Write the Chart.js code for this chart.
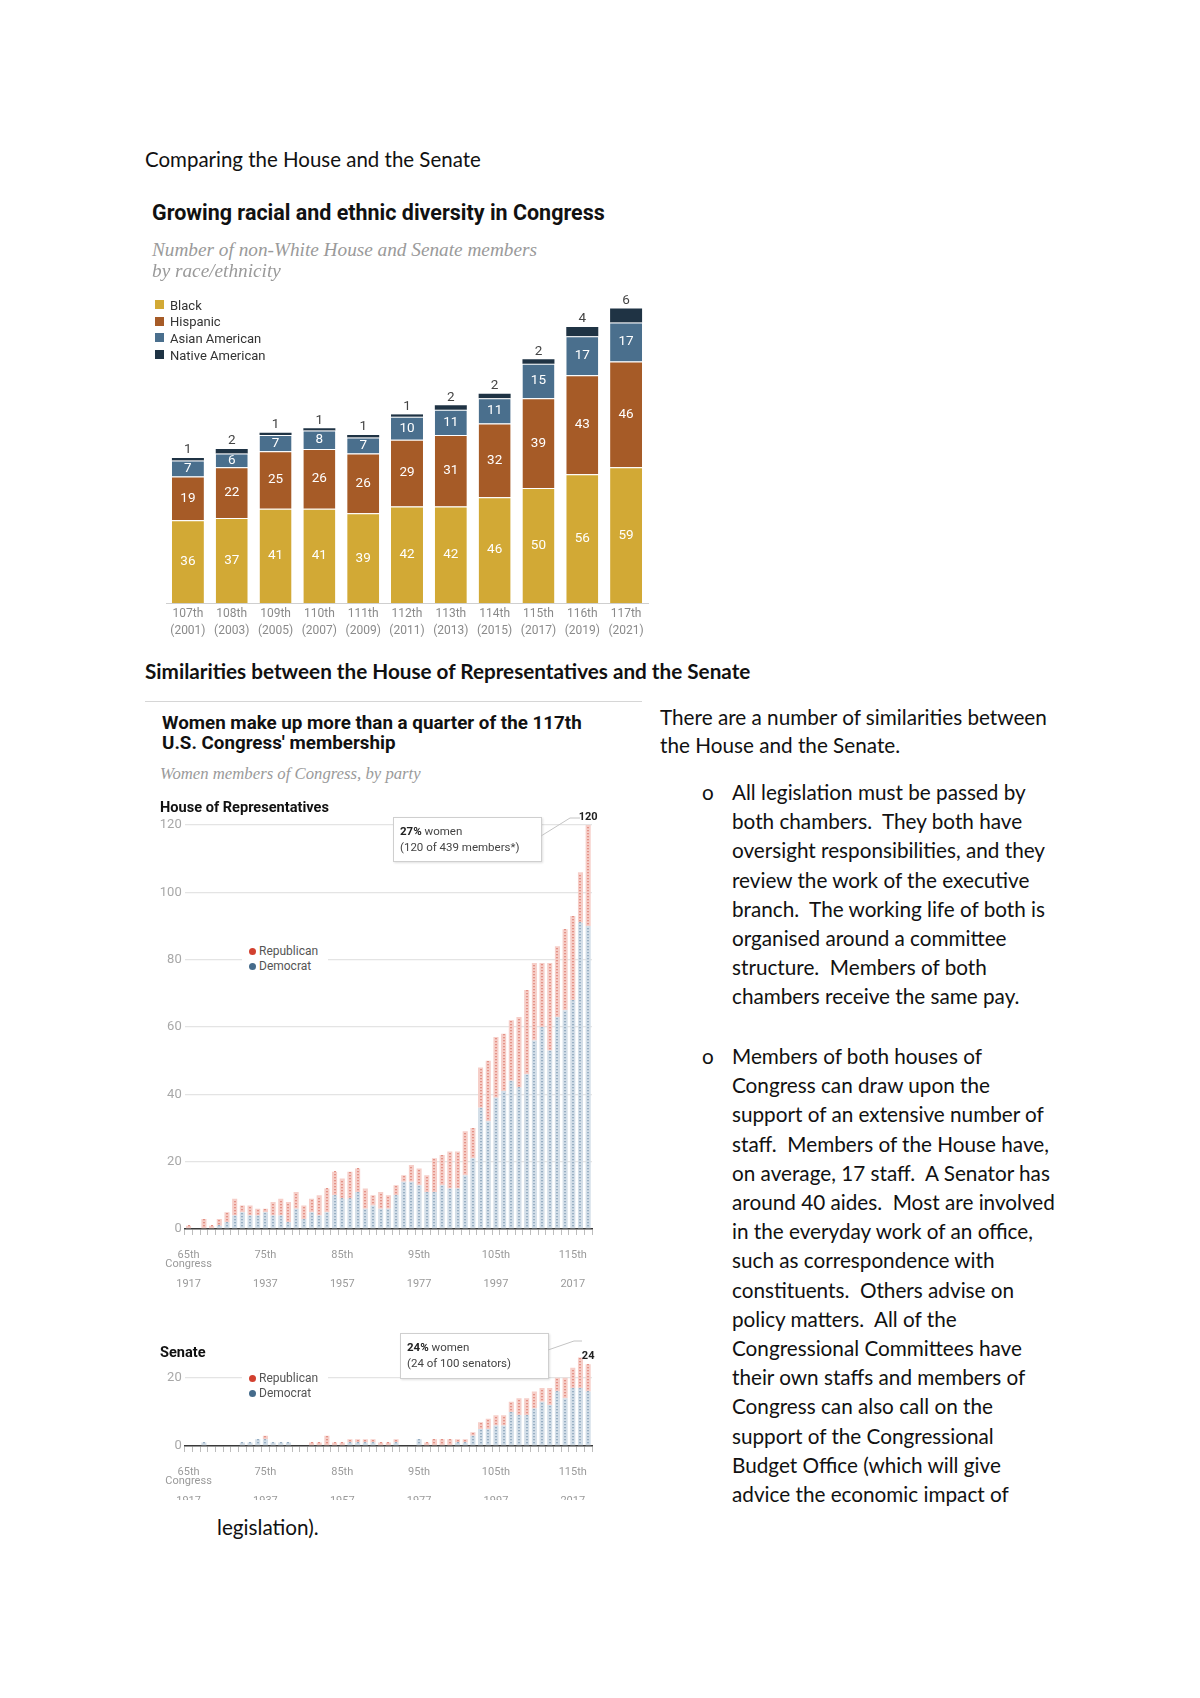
<!DOCTYPE html>
<html>
<head>
<meta charset="utf-8">
<script src="https://cdn.jsdelivr.net/npm/chart.js@4.4.0/dist/chart.umd.min.js"></script>
<style>
body { margin:0; background:#fff; }
#page { position:relative; width:1200px; height:1698px; overflow:hidden; background:#fff; }
.t { position:absolute; white-space:pre; line-height:1; transform:translateY(-50%); }
canvas { position:absolute; }
.sw { position:absolute; width:9px; height:9px; }
.box { position:absolute; background:#fff; border:1px solid #cfcfcf; box-shadow:1px 1px 2px rgba(0,0,0,0.12); }
.dot { display:inline-block; width:7px; height:7px; border-radius:50%; margin-right:3px; vertical-align:0px; }
</style>
</head>
<body>
<div id="page">
  <canvas id="race" width="520" height="375" style="left:150px;top:270px;"></canvas>
  <canvas id="house" width="460" height="490" style="left:150px;top:805px;"></canvas>
  <canvas id="senate" width="460" height="165" style="left:150px;top:1335px;"></canvas>
</div>
<script>
// top chart: non-White members by race/ethnicity
const congress = ['107th','108th','109th','110th','111th','112th','113th','114th','115th','116th','117th'];
const years = ['(2001)','(2003)','(2005)','(2007)','(2009)','(2011)','(2013)','(2015)','(2017)','(2019)','(2021)'];
const black = [36,37,41,41,39,42,42,46,50,56,59];
const hispanic = [19,22,25,26,26,29,31,32,39,43,46];
const asian = [7,6,7,8,7,10,11,11,15,17,17];
const native = [1,2,1,1,1,1,2,2,2,4,6];

// women members by party, 65th..117th Congress
const houseCongress = [65,66,67,68,69,70,71,72,73,74,75,76,77,78,79,80,81,82,83,84,85,86,87,88,89,90,91,92,93,94,95,96,97,98,99,100,101,102,103,104,105,106,107,108,109,110,111,112,113,114,115,116,117];
const houseDem = [0,0,0,0,1,2,4,5,4,4,5,4,4,2,6,3,5,4,5,10,9,9,11,6,7,6,6,10,14,14,13,11,11,13,12,12,16,21,36,32,39,41,44,42,46,56,60,53,63,65,68,91,90];
const houseRep = [1,0,3,1,2,3,5,2,3,2,1,4,5,6,5,4,4,6,7,7,6,8,7,6,3,5,4,3,2,5,5,5,10,9,11,11,13,9,12,18,18,17,18,21,25,23,19,26,21,24,25,15,30];
const senateDem = [0,0,1,0,0,0,0,1,1,2,2,1,1,1,0,0,0,0,0,0,0,1,1,1,1,0,0,1,0,0,2,0,0,0,0,1,1,3,5,5,6,6,10,9,9,11,13,12,16,14,17,17,16];
const senateRep = [0,0,0,0,0,0,0,0,0,0,1,0,0,0,0,0,1,1,3,1,1,1,1,1,1,1,1,1,0,0,0,1,2,2,2,1,1,1,2,3,3,3,3,5,5,5,4,5,4,6,6,9,8];
const tickCongress = [65,75,85,95,105,115];
const tickOrdinal = ['65th','75th','85th','95th','105th','115th'];
const tickYears = ['1917','1937','1957','1977','1997','2017'];

const page = document.getElementById('page');

function put(x, y, text, css, fitW) {
  const d = document.createElement('div');
  d.className = 't';
  d.textContent = text;
  d.style.cssText += css;
  d.style.left = x + 'px';
  d.style.top = y + 'px';
  page.appendChild(d);
  if (fitW) {
    const w = d.getBoundingClientRect().width;
    const fs = parseFloat(getComputedStyle(d).fontSize);
    d.style.fontSize = (fs * fitW / w) + 'px';
  }
  return d;
}

// document text
const body = 'font-family:Lato,sans-serif;color:#111;font-size:18px;';
put(145, 159, 'Comparing the House and the Senate', body, 336);
put(145, 671, 'Similarities between the House of Representatives and the Senate', body + 'font-weight:bold;', 606);
const ref = put(660, 717, 'There are a number of similarities between', body, 387);
const bodySize = ref.style.fontSize;
const bs = 'font-family:Lato,sans-serif;color:#111;font-size:' + bodySize + ';';
put(660, 745, 'the House and the Senate.', bs);
const bullet1 = ['All legislation must be passed by','both chambers.  They both have','oversight responsibilities, and they','review the work of the executive','branch.  The working life of both is','organised around a committee','structure.  Members of both','chambers receive the same pay.'];
const bullet2 = ['Members of both houses of','Congress can draw upon the','support of an extensive number of','staff.  Members of the House have,','on average, 17 staff.  A Senator has','around 40 aides.  Most are involved','in the everyday work of an office,','such as correspondence with','constituents.  Others advise on','policy matters.  All of the','Congressional Committees have','their own staffs and members of','Congress can also call on the','support of the Congressional','Budget Office (which will give','advice the economic impact of'];
put(702, 792, 'o', bs);
bullet1.forEach((s, i) => put(732, 792 + i * 29.2, s, bs));
put(702, 1056, 'o', bs);
bullet2.forEach((s, i) => put(732, 1056 + i * 29.2, s, bs));
put(217, 1527, 'legislation).', bs);

// top chart header + legend
put(152, 213, 'Growing racial and ethnic diversity in Congress', 'font-family:Roboto,sans-serif;font-weight:bold;color:#111;font-size:20px;', 453);
const sub = put(152, 250, 'Number of non-White House and Senate members', 'font-family:"Liberation Serif",serif;font-style:italic;color:#9a9a9a;font-size:16px;', 385);
put(152, 271, 'by race/ethnicity', 'font-family:"Liberation Serif",serif;font-style:italic;color:#9a9a9a;font-size:' + sub.style.fontSize + ';');
const raceColors = ['#d2a935','#a65b27','#4a6f8d','#1f3344'];
['Black','Hispanic','Asian American','Native American'].forEach((s, i) => {
  const sq = document.createElement('div');
  sq.className = 'sw';
  sq.style.left = '155px';
  sq.style.top = (300 + i * 16.7) + 'px';
  sq.style.background = raceColors[i];
  page.appendChild(sq);
  put(170, 304.5 + i * 16.7, s, 'font-family:Roboto,sans-serif;color:#333;font-size:13px;');
});

// women chart header
const line = document.createElement('div');
line.style.cssText = 'position:absolute;left:145px;top:701px;width:497px;height:1px;background:#d6d6d6;';
page.appendChild(line);
const wt = put(162, 723, 'Women make up more than a quarter of the 117th', 'font-family:Roboto,sans-serif;font-weight:bold;color:#111;font-size:16px;', 420);
put(162, 743, "U.S. Congress' membership", 'font-family:Roboto,sans-serif;font-weight:bold;color:#111;font-size:' + wt.style.fontSize + ';');
put(160, 774, 'Women members of Congress, by party', 'font-family:"Liberation Serif",serif;font-style:italic;color:#9a9a9a;font-size:14px;', 261);
const hh = put(160, 807, 'House of Representatives', 'font-family:Roboto,sans-serif;font-weight:bold;color:#111;font-size:13px;', 169);
put(160, 1352, 'Senate', 'font-family:Roboto,sans-serif;font-weight:bold;color:#111;font-size:' + hh.style.fontSize + ';');

Chart.defaults.font.family = 'Roboto, sans-serif';

const segLabels = {
  id: 'segLabels',
  afterDatasetsDraw(chart) {
    const ctx = chart.ctx;
    ctx.save();
    ctx.font = '13.5px Roboto, sans-serif';
    ctx.textAlign = 'center';
    ctx.textBaseline = 'middle';
    chart.data.datasets.forEach((ds, di) => {
      chart.getDatasetMeta(di).data.forEach((bar, i) => {
        if (di < 3) {
          ctx.fillStyle = '#fff';
          ctx.fillText(ds.data[i], bar.x, (bar.y + bar.base) / 2);
        } else {
          ctx.fillStyle = '#444';
          ctx.fillText(ds.data[i], bar.x, bar.y - 8);
        }
      });
    });
    ctx.restore();
  }
};

new Chart(document.getElementById('race'), {
  type: 'bar',
  data: {
    labels: congress.map((c, i) => [c, years[i]]),
    datasets: [
      { label: 'Black', data: black, backgroundColor: raceColors[0], borderColor: '#fff', borderWidth: { top: 1 } },
      { label: 'Hispanic', data: hispanic, backgroundColor: raceColors[1], borderColor: '#fff', borderWidth: { top: 1 } },
      { label: 'Asian American', data: asian, backgroundColor: raceColors[2], borderColor: '#fff', borderWidth: { top: 1 } },
      { label: 'Native American', data: native, backgroundColor: raceColors[3], borderWidth: 0 }
    ]
  },
  options: {
    responsive: false,
    animation: false,
    layout: { padding: { left: 16, right: 22, top: 11, bottom: 0 } },
    plugins: { legend: { display: false }, tooltip: { enabled: false } },
    datasets: { bar: { barPercentage: 0.73, categoryPercentage: 1, borderSkipped: false } },
    scales: {
      x: {
        stacked: true,
        grid: { display: true, drawOnChartArea: false, tickLength: 0 },
        border: { display: true, color: '#cfcfcf' },
        ticks: { color: '#8a8a8a', font: { size: 12, lineHeight: 1.4 }, padding: 3, maxRotation: 0, autoSkip: false },
        afterFit(s) { s.height = 42; }
      },
      y: { stacked: true, display: false, min: 0, max: 140 }
    }
  },
  plugins: [segLabels]
});

// women charts
const dotted = {
  id: 'dotted',
  afterDatasetsDraw(chart) {
    const ctx = chart.ctx;
    ctx.save();
    chart.data.datasets.forEach((ds, di) => {
      ctx.fillStyle = ds.dotColor;
      chart.getDatasetMeta(di).data.forEach(bar => {
        const top = Math.min(bar.y, bar.base), bot = Math.max(bar.y, bar.base);
        for (let y = bot - 2; y > top + 0.5; y -= 3) {
          ctx.fillRect(Math.round(bar.x) - 1, Math.round(y) - 1, 2, 1.3);
        }
      });
    });
    ctx.restore();
  }
};
const lastTotal = {
  id: 'lastTotal',
  afterDatasetsDraw(chart) {
    const dem = chart.data.datasets[0].data, rep = chart.data.datasets[1].data;
    const meta = chart.getDatasetMeta(1);
    const n = meta.data.length - 1;
    const bar = meta.data[n];
    const ctx = chart.ctx;
    ctx.save();
    ctx.font = 'bold 11px Roboto, sans-serif';
    ctx.fillStyle = '#222';
    ctx.textAlign = 'center';
    ctx.textBaseline = 'middle';
    ctx.fillText(dem[n] + rep[n], bar.x, bar.y - 8);
    ctx.restore();
  }
};

function womenChart(id, dem, rep, max, padTop, axisH, twoTicks) {
  return new Chart(document.getElementById(id), {
    type: 'bar',
    data: {
      labels: houseCongress,
      datasets: [
        { label: 'Democrat', data: dem, backgroundColor: '#d3dee8', dotColor: '#98afc3' },
        { label: 'Republican', data: rep, backgroundColor: '#f6cec8', dotColor: '#e39388' }
      ]
    },
    options: {
      responsive: false,
      animation: false,
      layout: { padding: { left: 0, right: 18, top: padTop, bottom: 0 } },
      plugins: { legend: { display: false }, tooltip: { enabled: false } },
      datasets: { bar: { barPercentage: 0.66, categoryPercentage: 1 } },
      scales: {
        x: {
          stacked: true,
          grid: { display: true, drawOnChartArea: false, tickLength: 6, color: '#bdbdbd' },
          border: { display: true, color: '#3a3a3a', width: 1.5 },
          ticks: {
            autoSkip: false, maxRotation: 0, padding: 15, color: '#9a9a9a',
            font: { size: 11, lineHeight: 0.88 },
            callback: function (v, i) {
              const k = tickCongress.indexOf(houseCongress[i]);
              if (k < 0) return '';
              return [tickOrdinal[k], k === 0 ? 'Congress' : '', '', tickYears[k]];
            }
          },
          afterFit(s) { s.height = axisH; }
        },
        y: {
          stacked: true, min: 0, max: max,
          grid: { color: '#e4e4e4', drawTicks: false, lineWidth: 1.3 },
          border: { display: false },
          ticks: { stepSize: 20, color: '#a8a8a8', font: { size: 13 }, padding: 3 },
          afterBuildTicks(s) { if (twoTicks) s.ticks = [{ value: 0 }, { value: 20 }]; },
          afterFit(s) { s.width = 33; }
        }
      }
    },
    plugins: [dotted, lastTotal]
  });
}
womenChart('house', houseDem, houseRep, 120, 20, 66, false);
womenChart('senate', senateDem, senateRep, 27, 19, 54, true);

// legends and callouts
function legend(y) {
  const bg = document.createElement('div');
  bg.style.cssText = 'position:absolute;left:242px;top:' + (y - 8) + 'px;width:86px;height:31px;background:#fff;';
  page.appendChild(bg);
  const s = 'font-family:Roboto,sans-serif;color:#555;font-size:12px;';
  put(249, y, '', s).innerHTML = '<span class="dot" style="background:#d2402f"></span>Republican';
  put(249, y + 15, '', s).innerHTML = '<span class="dot" style="background:#456b8b"></span>Democrat';
}
legend(951);
legend(1378);

function callout(x, y, w, h, bold, rest, line2) {
  const b = document.createElement('div');
  b.className = 'box';
  b.style.cssText += 'left:' + x + 'px;top:' + y + 'px;width:' + w + 'px;height:' + h + 'px;';
  page.appendChild(b);
  const s = 'font-family:Roboto,sans-serif;color:#444;font-size:11.5px;';
  put(x + 7, y + 15, '', s).innerHTML = '<b style="color:#222">' + bold + '</b> ' + rest;
  put(x + 7, y + 31, line2, s);
}
callout(393, 817, 147, 43, '27%', 'women', '(120 of 439 members*)');
callout(400, 1333, 147, 44, '24%', 'women', '(24 of 100 senators)');

const svgNS = 'http://www.w3.org/2000/svg';
const svg = document.createElementNS(svgNS, 'svg');
svg.setAttribute('width', '1200');
svg.setAttribute('height', '1698');
svg.style.cssText = 'position:absolute;left:0;top:0;';
[[541, 836, 570, 818, 580, 818], [548, 1350, 574, 1341, 582, 1341]].forEach(p => {
  const pl = document.createElementNS(svgNS, 'polyline');
  pl.setAttribute('points', p[0] + ',' + p[1] + ' ' + p[2] + ',' + p[3] + ' ' + p[4] + ',' + p[5]);
  pl.setAttribute('fill', 'none');
  pl.setAttribute('stroke', '#c4c4c4');
  pl.setAttribute('stroke-width', '1');
  svg.appendChild(pl);
});
page.appendChild(svg);
</script>
</body>
</html>
